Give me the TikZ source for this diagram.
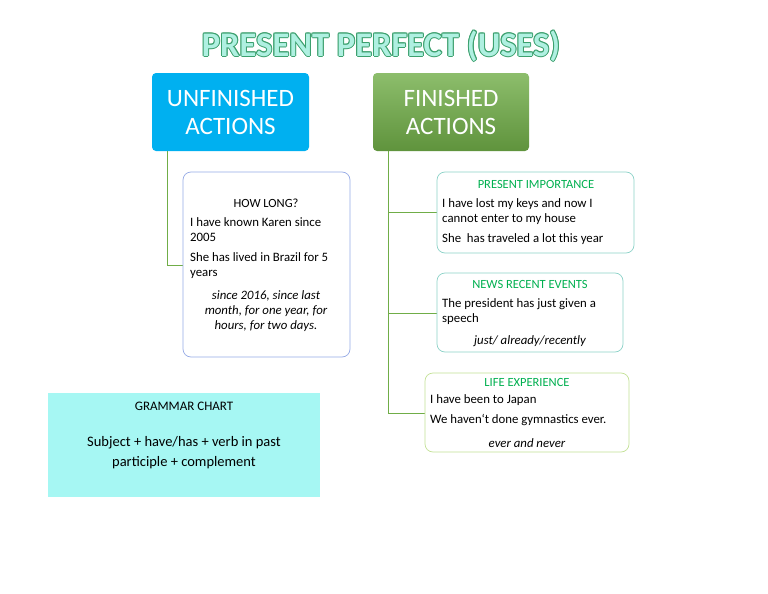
\documentclass[tikz,border=0pt]{standalone}
\usepackage{fontspec}
\setmainfont{Carlito}
\definecolor{cyanbox}{RGB}{0,176,240}
\definecolor{greenbox}{RGB}{112,173,71}
\definecolor{greentx}{RGB}{0,176,80}
\definecolor{lc}{RGB}{112,173,71}
\definecolor{titout}{RGB}{60,160,110}
\definecolor{titin}{RGB}{175,240,225}
\definecolor{hlb}{RGB}{150,170,230}
\definecolor{tealb}{RGB}{140,210,200}
\definecolor{lifeb}{RGB}{195,225,150}
\definecolor{gramf}{RGB}{166,247,243}
\begin{document}
\begin{tikzpicture}[x=1pt,y=-1pt,
  head/.style={text=white,font=\fontsize{25}{29}\selectfont,align=center,inner sep=0pt},
  card/.style={draw,rounded corners=8pt,line width=0.7pt,fill=white},
  conn/.style={draw=lc,line width=0.9pt},
  txt/.style={anchor=north west,font=\fontsize{12.8}{15}\selectfont,align=left,inner sep=0pt},
  ttl/.style={font=\fontsize{12.5}{14}\selectfont,inner sep=0pt},
  tf/.style={font=\bfseries\fontsize{34.5}{38}\selectfont,inner sep=0pt}]
\useasboundingbox (0,0) rectangle (768,594);
\fill[white] (0,0) rectangle (768,594);
% title
\foreach \dx/\dy in {-1/0,1/0,0/-1,0/1,-0.8/-0.8,0.8/0.8,-0.8/0.8,0.8/-0.8}
  \node[tf,text=titout] at (381+\dx,46+\dy) {PRESENT PERFECT (USES)};
\node[tf,text=titin] (title) at (381,46) {PRESENT PERFECT (USES)};
% connectors
\coordinate (u1) at (167,151); \coordinate (u2) at (167,265);
\coordinate (f1) at (388,151); \coordinate (f2) at (388,413);
\coordinate (fa) at (388,212); \coordinate (fb) at (388,313);
\draw[conn] (u1) -- (u2) -- (183,265);
\draw[conn] (f1) -- (f2) -- (425,413);
\draw[conn] (fa) -- (437,212);
\draw[conn] (fb) -- (437,313);
% heads
\fill[cyanbox,rounded corners=4pt] (152,73) rectangle (309,151);
\node[head] (unf) at (230.5,112) {UNFINISHED\\[-1pt]ACTIONS};
\shade[top color=greenbox!80!white,bottom color=greenbox!85!black,rounded corners=4pt] (373,73) rectangle (529,151);
\node[head] (fin) at (451,112) {FINISHED\\[-1pt]ACTIONS};
% how long
\draw[card,draw=hlb] (183,172) rectangle (350,357);
\node[ttl] (hl) at (266,203) {HOW LONG?};
\node[txt] (h1) at (190,217) {I have known Karen since\\2005};
\node[txt] (h2) at (190,252) {She has lived in Brazil for 5\\years};
\node[font=\itshape\fontsize{12.8}{15}\selectfont,align=center,inner sep=0pt] (h3) at (266,311) {since 2016, since last\\month, for one year, for\\hours, for two days.};
% present importance
\draw[card,draw=tealb] (437,172) rectangle (634,253);
\node[ttl,text=greentx] (pi) at (536,184) {PRESENT IMPORTANCE};
\node[txt] (p1) at (442,198) {I have lost my keys and now I\\cannot enter to my house};
\node[txt] (p2) at (442,233) {She\ \ has traveled a lot this year};
% news
\draw[card,draw=tealb] (437,273) rectangle (623,352);
\node[ttl,text=greentx] (nr) at (530,284) {NEWS RECENT EVENTS};
\node[txt] (n1) at (442,298) {The president has just given a\\speech};
\node[ttl,font=\itshape\fontsize{12.8}{14}\selectfont] (n2) at (530,341) {just/ already/recently};
% life
\draw[card,draw=lifeb] (425,373) rectangle (629,452);
\node[ttl,text=greentx] (le) at (527,382) {LIFE EXPERIENCE};
\node[txt] (l1) at (430,394) {I have been to Japan};
\node[txt] (l2) at (430,414) {We haven`t done gymnastics ever.};
\node[ttl,font=\itshape\fontsize{12.8}{14}\selectfont] (l3) at (527,443) {ever and never};
% grammar
\fill[gramf] (48,393) rectangle (320,497);
\node[ttl,font=\fontsize{13}{15}\selectfont] (gc) at (184,406) {GRAMMAR CHART};
\node[font=\fontsize{14.5}{20}\selectfont,align=center,inner sep=0pt] (gr) at (184,453) {Subject + have/has + verb in past\\participle + complement};
\end{tikzpicture}
\end{document}
